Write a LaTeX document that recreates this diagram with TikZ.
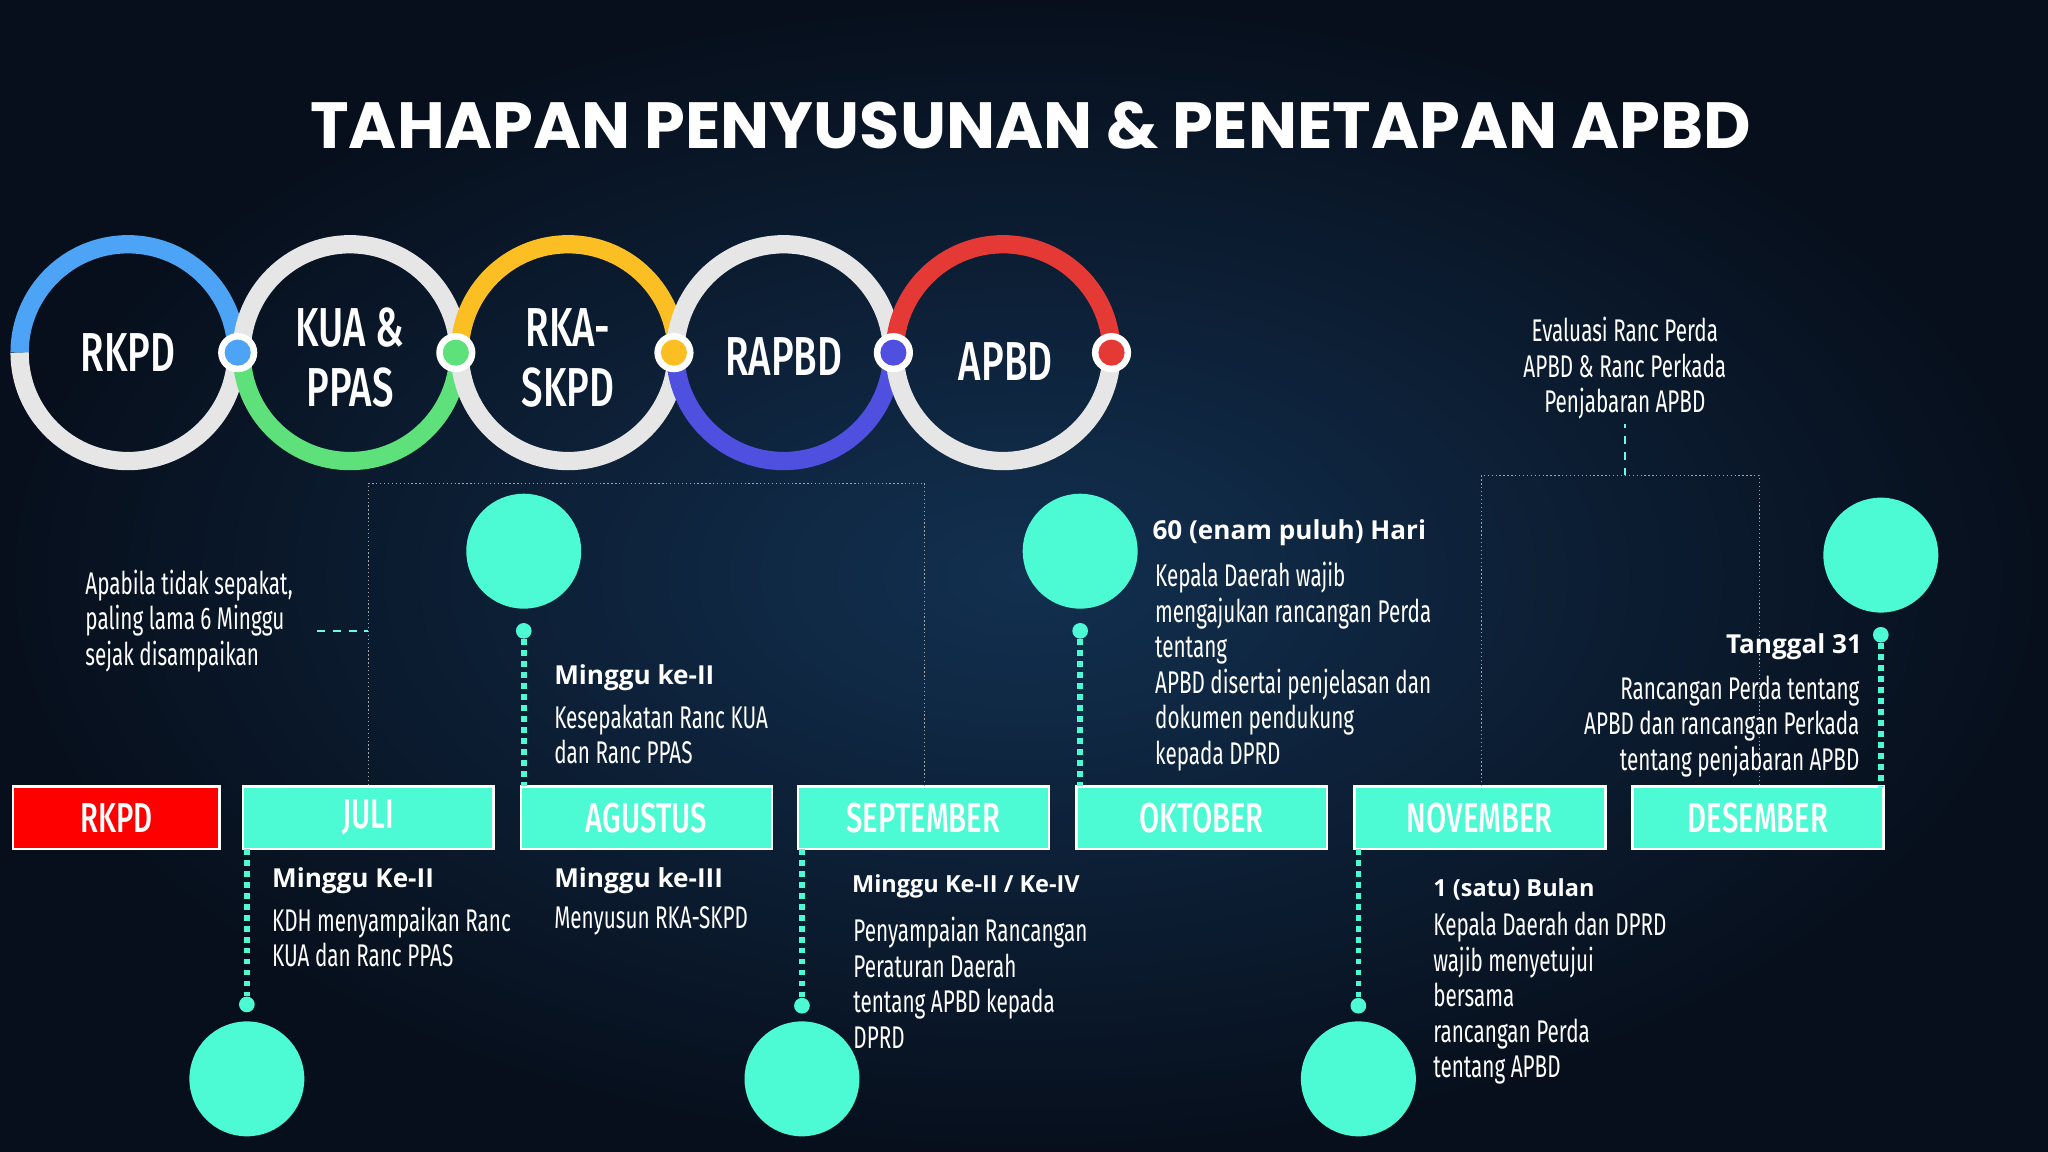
\documentclass[tikz,border=0pt]{standalone}
\usepackage{fontspec}
\setmainfont{Fira Sans}
\newfontfamily\titlefont{Poppins}[UprightFont=* Bold]
\newfontfamily\boldfont{Open Sans}[UprightFont=* Bold]
\newfontfamily\condfont{Fira Sans}[FakeStretch=0.66]
\newfontfamily\condbold{Fira Sans}[FakeStretch=0.7,UprightFont=* Medium]
\definecolor{teal}{HTML}{4CFAD4}
\definecolor{ringgray}{HTML}{E6E6E6}
\definecolor{rblue}{HTML}{4DA3F5}
\definecolor{rgreen}{HTML}{5EE07A}
\definecolor{ryellow}{HTML}{FBBF24}
\definecolor{rviolet}{HTML}{4F4FE0}
\definecolor{rred}{HTML}{E53935}
\definecolor{bgin}{HTML}{123050}
\definecolor{bgout}{HTML}{070F1C}
\begin{document}
\begin{tikzpicture}[x=0.5pt,y=-0.5pt,
  month/.style={draw=white,line width=1pt,fill=teal,minimum width=96pt,minimum height=24pt,inner sep=0pt,text=white,font=\condbold\fontsize{16}{16}\selectfont},
  dotc/.style={circle,fill=teal,minimum size=44pt,inner sep=0pt},
  sdot/.style={circle,fill=teal,minimum size=6pt,inner sep=0pt},
  conn/.style={teal,line width=2.2pt,dotted},
  frame/.style={gray!70,line width=0.5pt,densely dotted},
  lbl/.style={text=white,font=\boldfont\fontsize{10}{12}\selectfont,anchor=west,inner sep=0pt},
  body/.style={text=white,font=\condfont\fontsize{12}{13.6}\selectfont,align=left,anchor=north west,inner sep=0pt},
  ringtxt/.style={text=white,font=\condbold\fontsize{21}{21}\selectfont,align=center}]
\useasboundingbox (0,0) rectangle (1568,882);
\shade[inner color=bgin,outer color=bgout] (0,0) rectangle (1568,882);
\node[text=white,font=\titlefont\fontsize{25}{25}\selectfont] (title) at (789,96) {TAHAPAN PENYUSUNAN \& PENETAPAN APBD};
% rings
\def\R{83}
\foreach \cx/\top/\bot in {98/rblue/ringgray,268/ringgray/rgreen,435/ryellow/ringgray,600/ringgray/rviolet,768/rred/ringgray}{
  \draw[\top,line width=7pt] (\cx-\R,270) arc[start angle=180,end angle=0,x radius=\R,y radius=-\R];
  \draw[\bot,line width=7pt] (\cx+\R,270) arc[start angle=0,end angle=-180,x radius=\R,y radius=-\R];
}
\node[ringtxt] (r1) at (98,270) {RKPD};
\node[ringtxt] (r2) at (268,274) {KUA \&\\[2pt]PPAS};
\node[ringtxt] (r3) at (435,274) {RKA-\\[2pt]SKPD};
\node[ringtxt] (r4) at (600,273) {RAPBD};
\node[ringtxt] (r5) at (770,277) {APBD};
\foreach \x/\c in {182/rblue,349/rgreen,516/ryellow,684/rviolet,851/rred}{
  \fill[white] (\x,270) circle (7.5pt);
  \fill[\c] (\x,270) circle (5pt);
}
% months
\node[month,fill=red,draw=white,minimum width=79pt] (m0) at (89,626) {RKPD};
\node[month] (m1) at (282,626) {JULI};
\node[month] (m2) at (495,626) {AGUSTUS};
\node[month] (m3) at (707,626) {SEPTEMBER};
\node[month] (m4) at (920,626) {OKTOBER};
\node[month] (m5) at (1133,626) {NOVEMBER};
\node[month] (m6) at (1346,626) {DESEMBER};
% frames
\coordinate (f1) at (282,370); \coordinate (f2) at (708,370);
\draw[frame] (m1.north) -- (f1) -- (f2) -- (708,602);
\coordinate (g1) at (1134,364); \coordinate (g2) at (1347,364); \coordinate (g3) at (1244,364); \coordinate (g4) at (1244,325);
\draw[frame] (1134,602) -- (g1) -- (g2) -- (1347,602);
\draw[teal!80,dashed,line width=0.8pt] (g3) -- (g4);
\coordinate (h1) at (243,483); \coordinate (h2) at (282,483);
\draw[teal!80,dashed,line width=0.8pt] (h1) -- (h2);
% circles top
\node[dotc] (c1) at (401,422) {}; \node[sdot] (d1) at (401,483) {};
\node[dotc] (c2) at (827,422) {}; \node[sdot] (d2) at (827,483) {};
\node[dotc] (c3) at (1440,425) {}; \node[sdot] (d3) at (1440,486) {};
\draw[conn] (d1) -- (401,602);
\draw[conn] (d2) -- (827,602);
\draw[conn] (d3) -- (1440,602);
% circles bottom
\node[dotc] (c4) at (189,826) {}; \node[sdot] (d4) at (189,769) {};
\node[dotc] (c5) at (614,826) {}; \node[sdot] (d5) at (614,770) {};
\node[dotc] (c6) at (1040,826) {}; \node[sdot] (d6) at (1040,770) {};
\draw[conn] (189,650) -- (d4);
\draw[conn] (614,650) -- (d5);
\draw[conn] (1040,650) -- (d6);
% texts
\node[body] (t0) at (65,436) {Apabila tidak sepakat,\\paling lama 6 Minggu\\sejak disampaikan};
\node[body,align=center,anchor=center] (t9) at (1244,282) {Evaluasi Ranc Perda\\APBD \& Ranc Perkada\\Penjabaran APBD};
\node[lbl] (l1) at (424,519) {Minggu ke-II};
\node[body] (b1) at (424,539) {Kesepakatan Ranc KUA\\dan Ranc PPAS};
\node[lbl] (l2) at (882,408) {60 (enam puluh) Hari};
\node[body] (b2) at (884,430) {Kepala Daerah wajib\\mengajukan rancangan Perda\\tentang\\APBD disertai penjelasan dan\\dokumen pendukung\\kepada DPRD};
\node[lbl,anchor=east] (l3) at (1426,495) {Tanggal 31};
\node[body,align=right,anchor=north east] (b3) at (1424,517) {Rancangan Perda tentang\\APBD dan rancangan Perkada\\tentang penjabaran APBD};
\node[lbl] (l4) at (208,674) {Minggu Ke-II};
\node[body] (b4) at (208,694) {KDH menyampaikan Ranc\\KUA dan Ranc PPAS};
\node[lbl] (l5) at (424,674) {Minggu ke-III};
\node[body] (b5) at (424,694) {Menyusun RKA-SKPD};
\node[lbl,font=\boldfont\fontsize{9}{11}\selectfont] (l6) at (652,679) {Minggu Ke-II / Ke-IV};
\node[body] (b6) at (653,702) {Penyampaian Rancangan\\Peraturan Daerah\\tentang APBD kepada\\DPRD};
\node[lbl,font=\boldfont\fontsize{9}{11}\selectfont] (l7) at (1097,681) {1 (satu) Bulan};
\node[body] (b7) at (1097,698) {Kepala Daerah dan DPRD\\wajib menyetujui\\bersama\\rancangan Perda\\tentang APBD};
\end{tikzpicture}
\end{document}
